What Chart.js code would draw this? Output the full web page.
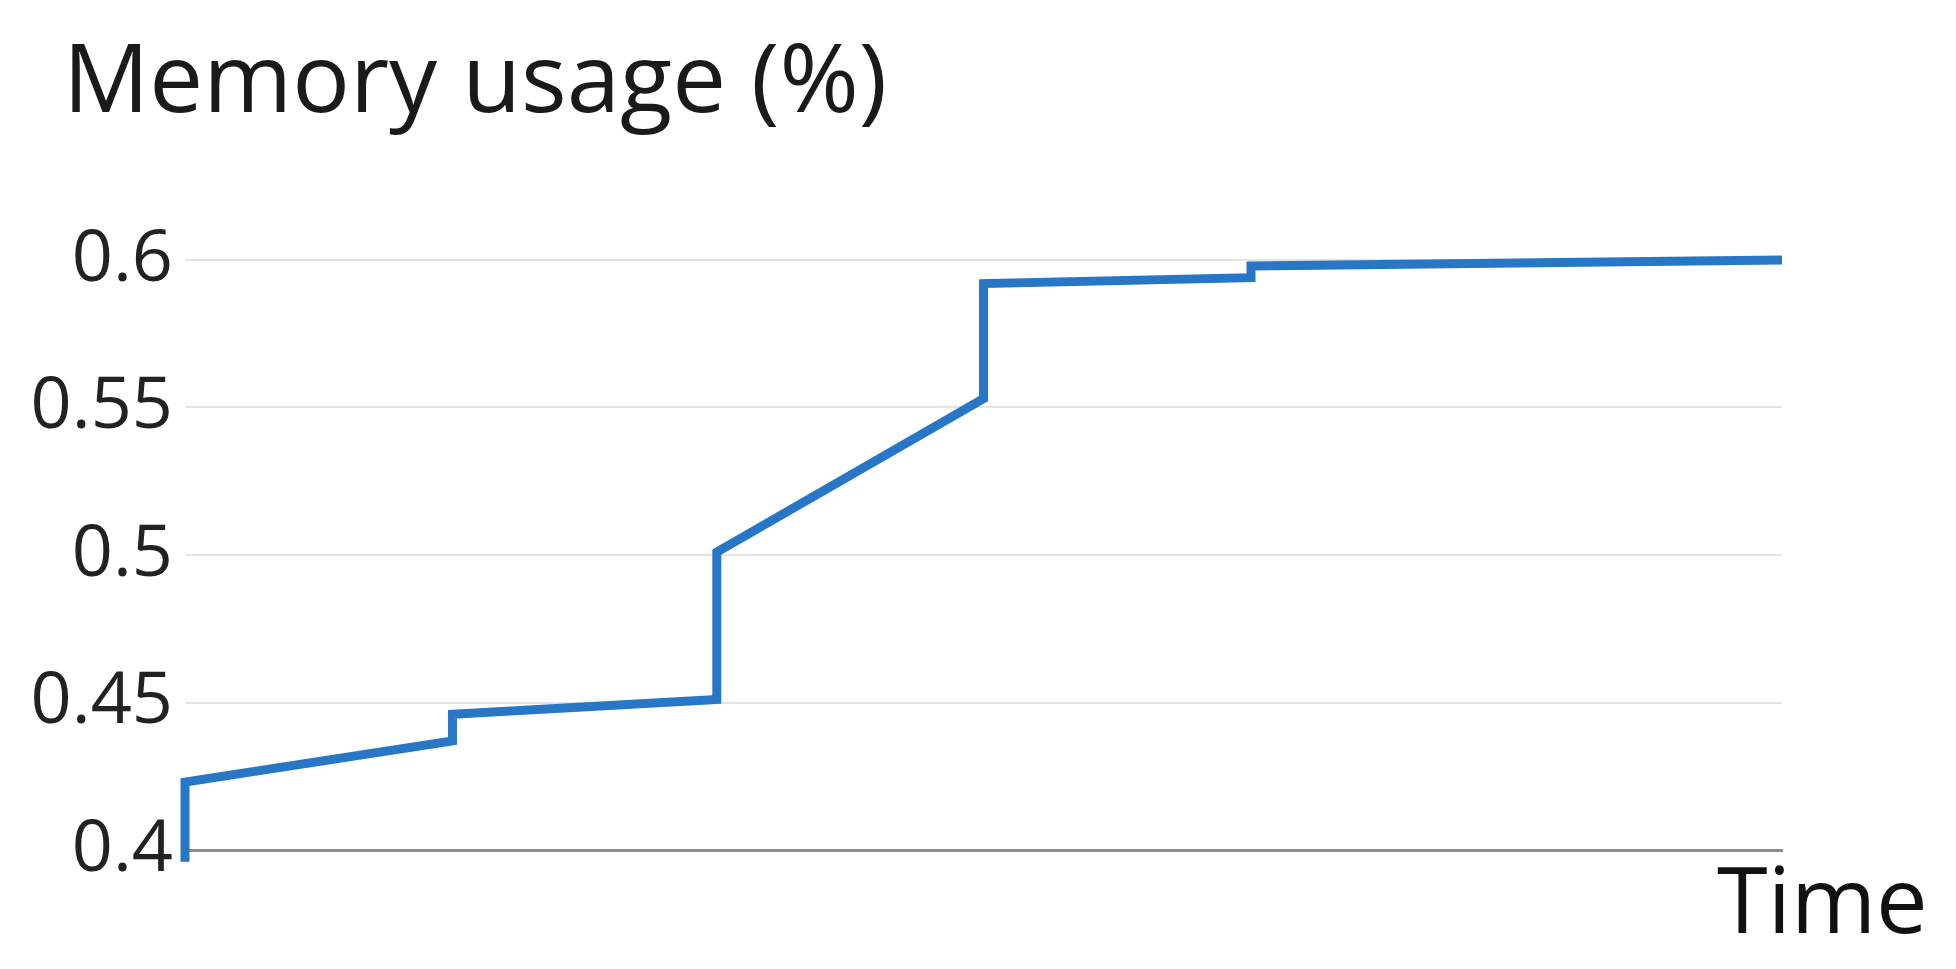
<!DOCTYPE html>
<html>
<head>
<meta charset="utf-8">
<script src="https://cdn.jsdelivr.net/npm/chart.js@4.4.1/dist/chart.umd.min.js"></script>
<style>
  html, body { margin: 0; padding: 0; background: #fff; }
  #wrap { width: 1956px; height: 969px; position: relative; }
</style>
</head>
<body>
<div id="wrap"><canvas id="memChart"></canvas></div>
<script>
// memory readings over time (x in % of the time window)
const timePoints = [0, 0, 16.75, 16.75, 33.3, 33.3, 50, 50, 66.75, 66.75, 100];
const memoryUsage = [0.396, 0.423, 0.437, 0.446, 0.451, 0.501, 0.553, 0.592, 0.594, 0.598, 0.6];

const yTicks = [0.4, 0.45, 0.5, 0.55, 0.6];
const yTickLabels = ['0.4', '0.45', '0.5', '0.55', '0.6'];

const chartTitle = 'Memory usage (%)';
const xAxisLabel = 'Time';

const FONT = '"Open Sans", "Noto Sans", sans-serif';

// title top-left and "Time" past the right end of the x axis
const extraLabels = {
  id: 'extraLabels',
  afterDraw(chart) {
    const {ctx, chartArea} = chart;
    ctx.save();
    ctx.textAlign = 'left';
    ctx.textBaseline = 'alphabetic';

    ctx.font = '96px ' + FONT;
    ctx.fillStyle = '#1a1a1a';
    ctx.fillText(chartTitle, 63, 112);

    ctx.font = '92px ' + FONT;
    ctx.fillStyle = '#111';
    ctx.fillText(xAxisLabel, chartArea.right - 65, chartArea.bottom + 83);
    ctx.restore();
  }
};

const points = timePoints.map((t, i) => ({x: t, y: memoryUsage[i]}));

new Chart(document.getElementById('memChart'), {
  type: 'line',
  data: {
    datasets: [{
      data: points,
      borderColor: '#2877c6',
      borderWidth: 9,
      pointRadius: 0,
      tension: 0,
      borderJoinStyle: 'miter',
      borderCapStyle: 'butt',
      fill: false,
      clip: false
    }]
  },
  options: {
    responsive: true,
    maintainAspectRatio: false,
    animation: false,
    layout: {
      padding: {left: 10, right: 174, top: 260, bottom: 119}
    },
    plugins: {
      legend: {display: false},
      tooltip: {enabled: false},
      title: {display: false}
    },
    scales: {
      x: {
        type: 'linear',
        min: 0,
        max: 100,
        ticks: {display: false},
        grid: {display: false, drawTicks: false},
        border: {display: true, color: '#8c8c8c', width: 3},
        afterFit(scale) { scale.height = 0; }
      },
      y: {
        min: 0.4,
        max: 0.6,
        afterBuildTicks(scale) {
          scale.ticks = yTicks.map(v => ({value: v}));
        },
        ticks: {
          padding: 12,
          color: '#222',
          font: {family: FONT, size: 72},
          callback: (value, index) => yTickLabels[index]
        },
        grid: {color: '#e4e4e4', lineWidth: 2, drawTicks: false},
        border: {display: false},
        afterFit(scale) { scale.width = 175; }
      }
    }
  },
  plugins: [extraLabels]
});
</script>
</body>
</html>
